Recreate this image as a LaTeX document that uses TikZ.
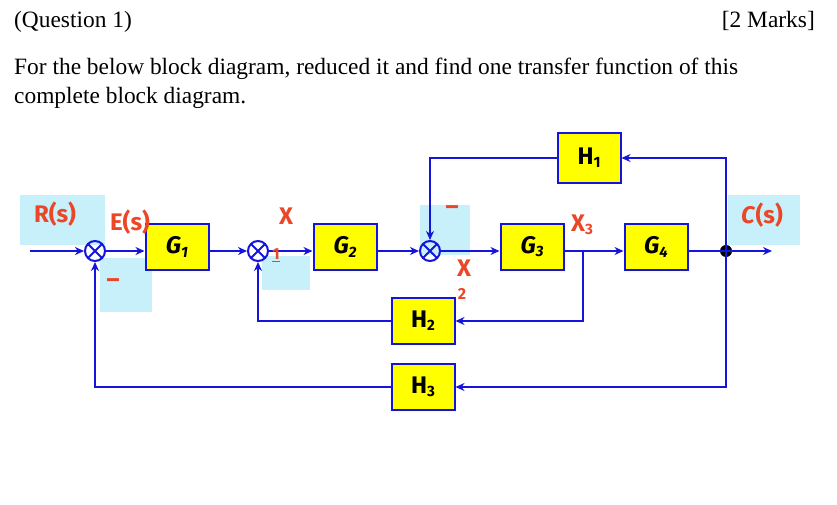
\documentclass[tikz,border=0pt]{standalone}
\usepackage{fontspec}
\setmainfont{Liberation Serif}
\newfontfamily\diagfont{Fira Sans}
\usetikzlibrary{arrows.meta}
\definecolor{lineblue}{RGB}{20,20,220}
\definecolor{boxyellow}{RGB}{255,255,0}
\definecolor{lblred}{RGB}{235,70,40}
\definecolor{hilite}{RGB}{200,240,250}
\tikzset{
  block/.style = {rectangle, draw=lineblue, line width=2pt, fill=boxyellow, minimum width=63pt, minimum height=46pt, font=\diagfont\bfseries\fontsize{24}{24}\selectfont},
  sum/.style = {circle, draw=lineblue, line width=2pt, minimum size=20pt, inner sep=0pt, path picture={\draw[lineblue,line width=1.8pt] (path picture bounding box.north west) -- (path picture bounding box.south east) (path picture bounding box.north east) -- (path picture bounding box.south west);}},
  lbl/.style = {text=lblred, font=\diagfont\bfseries\fontsize{24}{24}\selectfont, inner sep=0pt},
  wire/.style = {draw=lineblue, line width=2pt, -{Stealth[length=9pt,width=8pt]}},
  wireplain/.style = {draw=lineblue, line width=2pt},
  txt/.style = {anchor=base west, inner sep=0pt, font=\fontsize{23.4}{27}\selectfont}
}
\newcommand{\gsub}[2]{#1\raisebox{-0.25ex}{\fontsize{15}{15}\selectfont #2}}
\begin{document}
\begin{tikzpicture}[x=1pt, y=-1pt]
    \useasboundingbox (0,0) rectangle (837,505);
    % highlights
    \fill [hilite] (20,195) rectangle (105,245);
    \fill [hilite] (100,258) rectangle (152,312);
    \fill [hilite] (262,256) rectangle (310,290);
    \fill [hilite] (420,205) rectangle (470,255);
    \fill [hilite] (728,195) rectangle (800,245);
    % question text
    \node [txt] (q)     at (14,28)  {(Question 1)};
    \node [txt, anchor=base east] (marks) at (815,28) {[2 Marks]};
    \node [txt] (line1) at (14,75)  {For the below block diagram, reduced it and find one transfer function of this};
    \node [txt] (line2) at (14,104) {complete block diagram.};
    % blocks and junctions
    \coordinate (in) at (30,251);
    \node [sum]   (s1) at (95,251)  {};
    \node [block] (g1) at (177,247) {\textit{\gsub{G}{1}}};
    \node [sum]   (s2) at (258,251) {};
    \node [block] (g2) at (345,247) {\textit{\gsub{G}{2}}};
    \node [sum]   (s3) at (430,251) {};
    \node [block] (g3) at (532,247) {\textit{\gsub{G}{3}}};
    \node [block] (g4) at (656,247) {\textit{\gsub{G}{4}}};
    \fill [black] (726,251) circle (6pt);
    \coordinate (dot) at (726,251);
    \coordinate (out) at (772,251);
    \coordinate (x3) at (583,251);
    \node [block, minimum height=50pt] (h1) at (589,158) {\gsub{H}{1}};
    \node [block] (h2) at (423,321) {\gsub{H}{2}};
    \node [block] (h3) at (423,387) {\gsub{H}{3}};
    % forward path
    \draw [wire] (in) -- (s1);
    \draw [wire] (s1) -- (g1.west |- s1);
    \draw [wire] (g1.east |- s1) -- (s2);
    \draw [wire] (s2) -- (g2.west |- s2);
    \draw [wire] (g2.east |- s2) -- (s3);
    \draw [wire] (s3) -- (g3.west |- s3);
    \draw [wire] (g3.east |- s3) -- (g4.west |- s3);
    \draw [wireplain] (g4.east |- dot) -- (dot);
    \draw [wire] (dot) -- (out);
    % feedback paths
    \draw [wire] (dot) |- (h1.east);
    \draw [wire] (h1.west) -| (s3);
    \draw [wire] (x3) |- (h2.east);
    \draw [wire] (h2.west) -| (s2);
    \draw [wire] (dot) |- (h3.east);
    \draw [wire] (h3.west) -| (s1);
    % labels
    \node [lbl] (rs)  at (55,214)  {R(s)};
    \node [lbl] (es)  at (130,222) {E(s)};
    \node [lbl] (m1)  at (113,280) {\_};
    \node [lbl] (xa)  at (286,216) {X};
    \node [lbl] (one) at (276,255) {\underline{\fontsize{16}{16}\selectfont 1}};
    \node [lbl] (m3)  at (452,207) {\_};
    \node [lbl] (xb)  at (464,268) {X};
    \node [lbl, font=\diagfont\bfseries\fontsize{16}{16}\selectfont] (two) at (462,294) {2};
    \node [lbl] (xc)  at (582,225) {\gsub{X}{3}};
    \node [lbl] (cs)  at (762,215) {\textit{C}(s)};
\end{tikzpicture}
\end{document}
